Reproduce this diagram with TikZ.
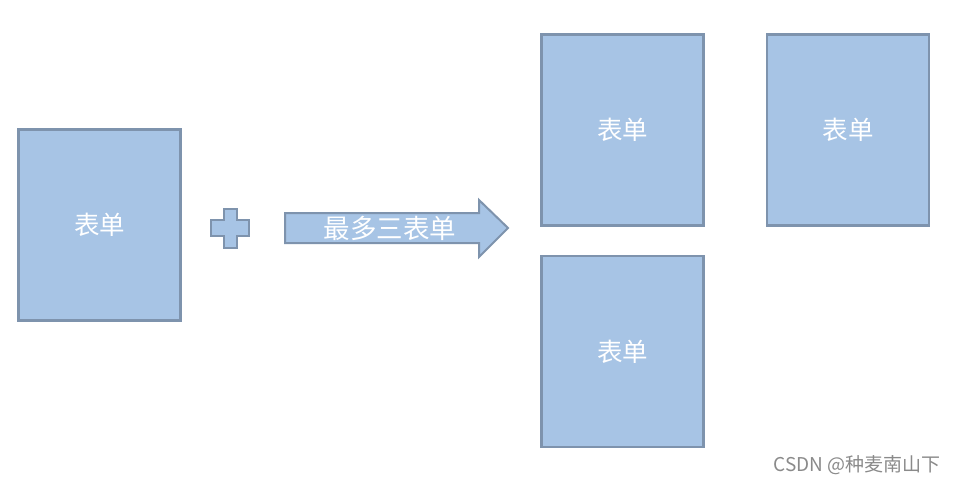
\documentclass[tikz,border=0pt]{standalone}
\usepackage{fontspec}
\newfontfamily\cjk{Noto Sans CJK SC}
\definecolor{boxfill}{HTML}{A7C4E5}
\definecolor{boxline}{HTML}{7E93AD}
\definecolor{wm}{HTML}{8A8A8A}
\begin{document}
\begin{tikzpicture}[x=1pt,y=-1pt,
  formbox/.style={draw=boxline,fill=boxfill,line width=2.5pt,minimum width=162pt,minimum height=191pt,inner sep=0pt,text=white,font=\cjk\fontsize{25.5}{25.5}\selectfont},
  shapefill/.style={draw=boxline,fill=boxfill,line width=2pt,line join=miter}]
\useasboundingbox[fill=white] (0,0) rectangle (959,485);
\node[formbox] (f1) at (99.5,225) {表单};
\node[formbox] (f2) at (622.5,130) {表单};
\node[formbox] (f3) at (848,130) {表单};
\node[formbox] (f4) at (622.5,351.5) {表单};
% plus
\draw[shapefill] (224,209) -- (237,209) -- (237,220) -- (249,220) -- (249,236) -- (237,236) -- (237,248) -- (224,248) -- (224,236) -- (211,236) -- (211,220) -- (224,220) -- cycle;
\coordinate (plus) at (230,228);
% arrow
\draw[shapefill] (285,213) -- (479,213) -- (479,200) -- (508,228) -- (479,257) -- (479,243) -- (285,243) -- cycle;
\node[text=white,font=\cjk\fontsize{26.5}{26.5}\selectfont] (lbl) at (390,228) {最多三表单};
\node[text=wm,font=\cjk\fontsize{19}{19}\selectfont,anchor=east] (wmark) at (944,465) {CSDN @种麦南山下};
\end{tikzpicture}
\end{document}
